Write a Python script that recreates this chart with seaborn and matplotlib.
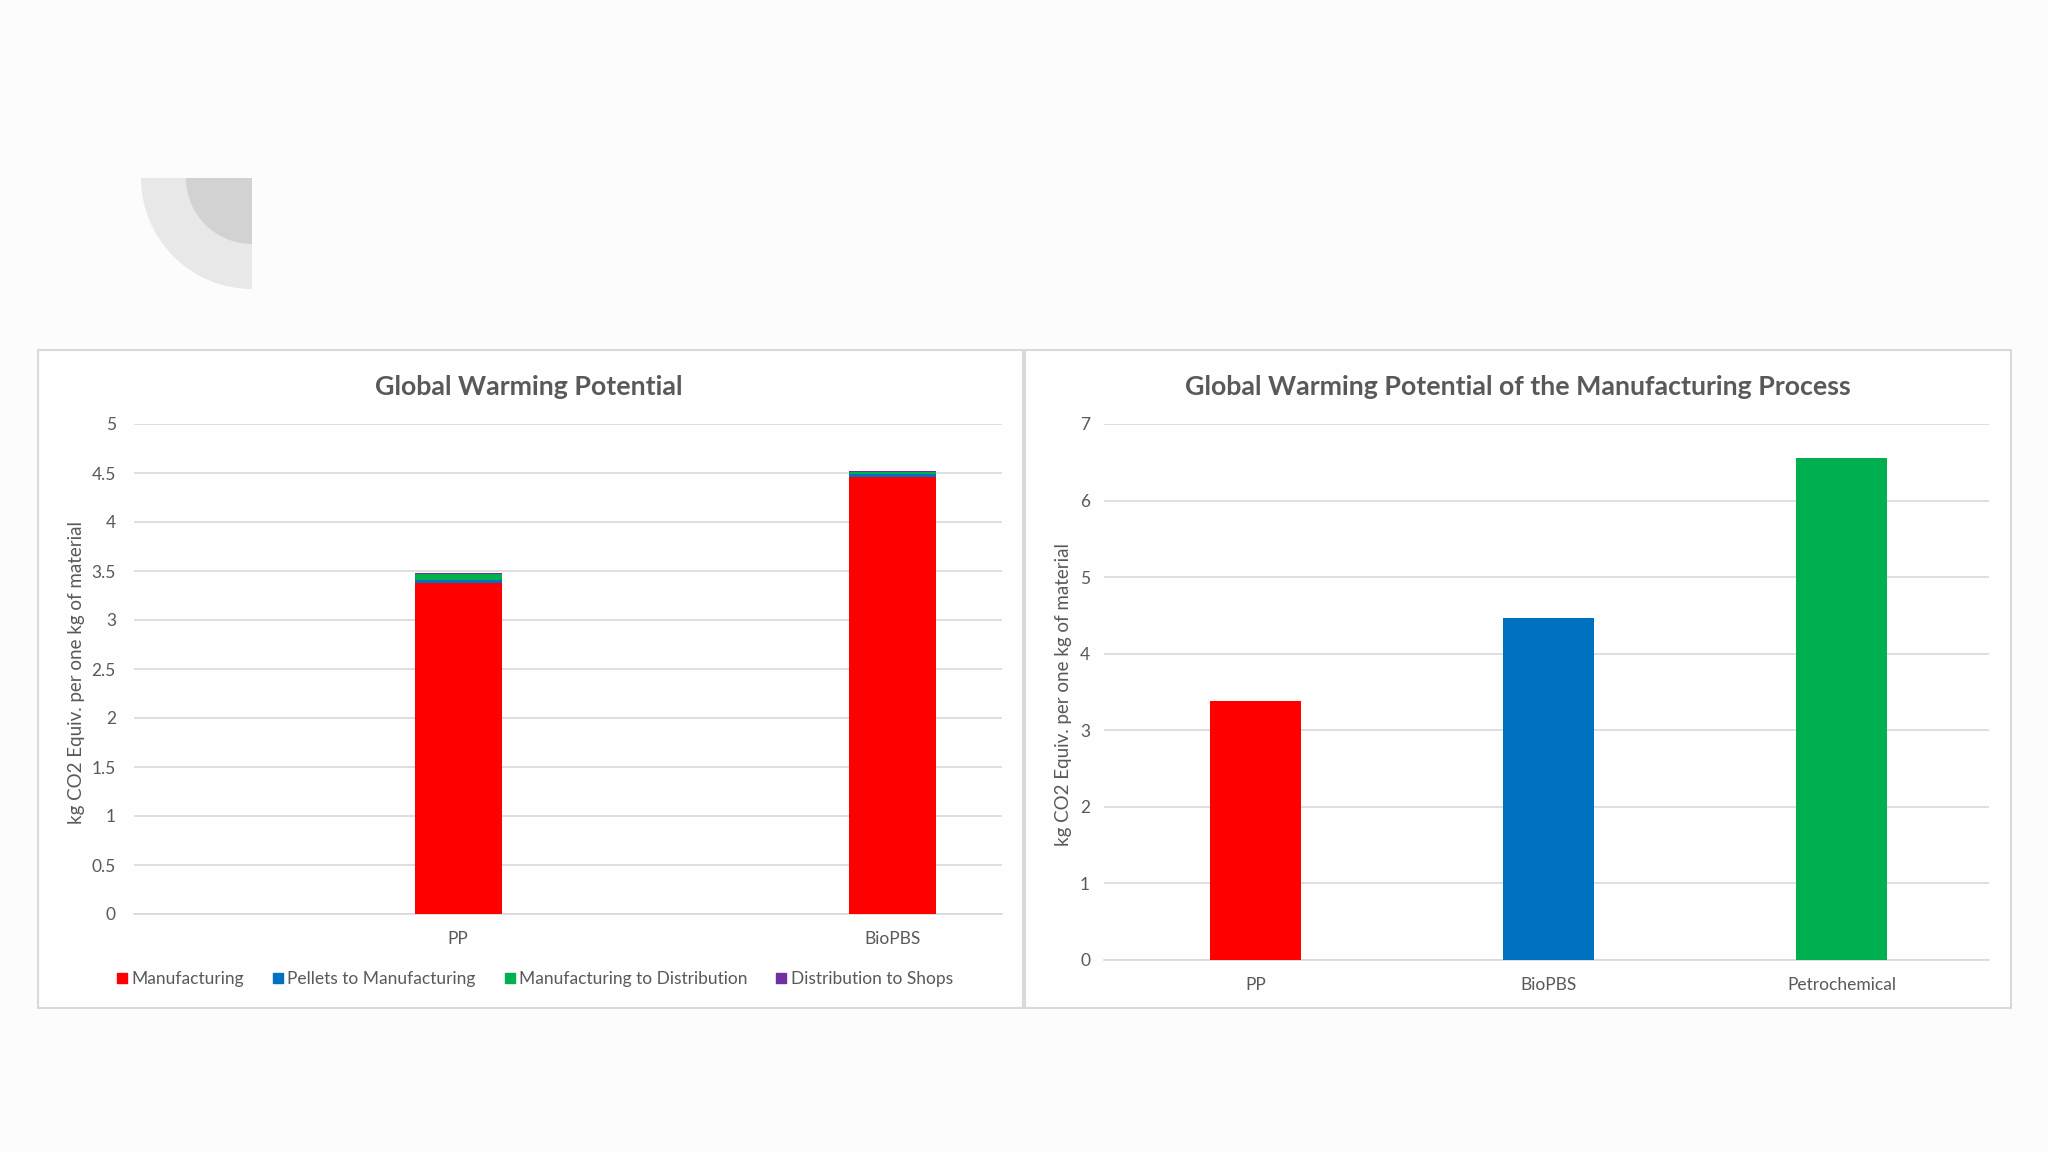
import matplotlib
matplotlib.use("Agg")
import matplotlib.pyplot as plt
import seaborn as sns
import numpy as np
import pandas as pd
from matplotlib.patches import Wedge, Rectangle
from matplotlib.lines import Line2D
from matplotlib.ticker import FormatStrFormatter

# ---------------- data ----------------
materials = ["PP", "BioPBS"]
manufacturing = [3.38, 4.46]
pellets_to_manufacturing = [0.03, 0.03]
manufacturing_to_distribution = [0.06, 0.02]
distribution_to_shops = [0.01, 0.01]
stage_names = ["Manufacturing", "Pellets to Manufacturing",
               "Manufacturing to Distribution", "Distribution to Shops"]
stage_colors = ["#FF0000", "#0070C0", "#00B050", "#7030A0"]

process_materials = ["PP", "BioPBS", "Petrochemical"]
process_values = [3.38, 4.46, 6.55]
process_colors = ["#FF0000", "#0070C0", "#00B050"]

left_title = "Global Warming Potential"
right_title = "Global Warming Potential of the Manufacturing Process"
y_label = "kg CO2 Equiv. per one kg of material"

# ---------------- style ----------------
sns.set_theme(style="white")
plt.rcParams["font.family"] = ["Lato", "DejaVu Sans"]
TXT = "#595959"
GRID = "#D9D9D9"

W, H = 2048, 1152
fig = plt.figure(figsize=(W / 100, H / 100), dpi=100, facecolor="#FDFCFC")

# background decoration + panels (pixel coordinates, y from top)
bg = fig.add_axes([0, 0, 1, 1], zorder=-5)
bg.set_xlim(0, W)
bg.set_ylim(0, H)
bg.axis("off")
bg.add_patch(Wedge((252, H - 178), 111, 180, 270, facecolor="#E8E8E8", edgecolor="none"))
bg.add_patch(Wedge((252, H - 178), 66, 180, 270, facecolor="#D2D2D2", edgecolor="none"))
bg.add_patch(Rectangle((38, H - 1008), 985, 658, facecolor="#FEFEFE", edgecolor="#D9D9D9", lw=1.5))
bg.add_patch(Rectangle((1025, H - 1008), 986, 658, facecolor="#FEFEFE", edgecolor="#D9D9D9", lw=1.5))


def px_axes(x0, x1, ytop, ybot):
    return fig.add_axes([x0 / W, 1 - ybot / H, (x1 - x0) / W, (ybot - ytop) / H])


def style_axes(ax, yticks, ypad, xpad):
    ax.set_facecolor("none")
    for s in ["top", "right", "left"]:
        ax.spines[s].set_visible(False)
    ax.spines["bottom"].set_color(GRID)
    ax.spines["bottom"].set_linewidth(1.2)
    ax.set_yticks(yticks)
    ax.yaxis.set_major_formatter(FormatStrFormatter("%g"))
    ax.grid(axis="y", color=GRID, linewidth=1.2)
    ax.set_axisbelow(True)
    ax.tick_params(axis="y", length=0, pad=ypad, labelsize=12.5, labelcolor=TXT)
    ax.tick_params(axis="x", length=0, pad=xpad, labelsize=12.5, labelcolor=TXT)
    ax.set_xlabel("")
    ax.set_ylabel("")


# ---------------- left: stacked bars ----------------
axL = px_axes(134, 1002, 424, 914)
layers = [manufacturing, pellets_to_manufacturing,
          manufacturing_to_distribution, distribution_to_shops]
cum = np.cumsum(np.array(layers), axis=0)
# draw from the top layer downwards so lower layers overlay the totals
for i in range(len(layers) - 1, -1, -1):
    df = pd.DataFrame({"material": materials, "value": cum[i]})
    sns.barplot(data=df, x="material", y="value", order=materials, color=stage_colors[i],
                width=0.2, saturation=1, ax=axL, edgecolor="none", linewidth=0, zorder=3 + (4 - i))
axL.set_ylim(0, 5)
axL.set_xlim(-0.747, 1.253)
style_axes(axL, np.arange(0, 5.01, 0.5), 13, 12.5)

handles = [Line2D([0], [0], marker="s", linestyle="none", markersize=7.5,
                  markerfacecolor=c, markeredgecolor=c) for c in stage_colors]
fig.legend(handles, stage_names, loc="center", bbox_to_anchor=(534 / W, 1 - 979 / H),
           ncol=4, frameon=False, fontsize=12.5, labelcolor=TXT, handletextpad=0.15,
           columnspacing=1.55, handlelength=0.8)

fig.text(529 / W, 1 - 387 / H, left_title, ha="center", va="center",
         fontsize=19.3, fontweight="bold", color=TXT)
fig.text(77 / W, 1 - 672 / H, y_label, ha="center", va="center", rotation=90,
         fontsize=13.5, color=TXT)

# ---------------- right: simple bars ----------------
axR = px_axes(1104, 1989, 424, 960)
dfR = pd.DataFrame({"material": process_materials, "value": process_values})
sns.barplot(data=dfR, x="material", y="value", hue="material", order=process_materials,
            palette=process_colors, width=0.31, saturation=1, legend=False, ax=axR,
            edgecolor="none", linewidth=0, zorder=3)
axR.set_ylim(0, 7)
axR.set_xlim(-0.517, 2.503)
style_axes(axR, np.arange(0, 8, 1), 10, 12.5)

fig.text(1518 / W, 1 - 387 / H, right_title, ha="center", va="center",
         fontsize=19.3, fontweight="bold", color=TXT)
fig.text(1064 / W, 1 - 695 / H, y_label, ha="center", va="center", rotation=90,
         fontsize=13.5, color=TXT)

fig.savefig("out.png", dpi=100, facecolor=fig.get_facecolor())
